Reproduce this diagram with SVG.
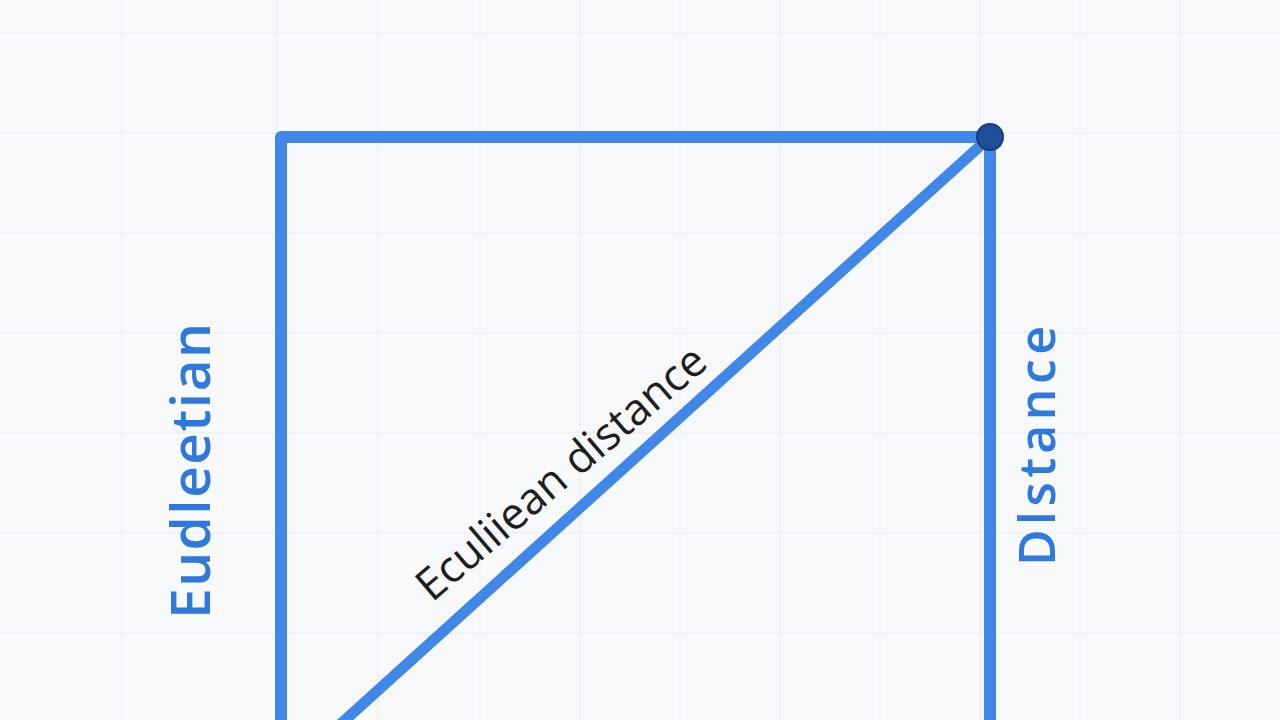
<svg xmlns="http://www.w3.org/2000/svg" width="1280" height="720" viewBox="0 0 1280 720">
<defs>
<style>
.grid{stroke:#eef1f4;stroke-width:1.5;fill:none}
.edge{stroke:#4087e8;stroke-width:12;fill:none;stroke-linejoin:round;stroke-linecap:butt}
.diag{stroke:#4087e8;stroke-width:11;fill:none}
.side{font-family:"Open Sans","DejaVu Sans",sans-serif;fill:#2f78dc;font-weight:600}
.lbl{font-family:"Open Sans","DejaVu Sans",sans-serif;fill:#1e1e1e;font-size:44px}
</style>
</defs>
<rect width="1280" height="720" fill="#f7f9fb"/>
<g id="grid" class="grid">
<path d="M122,0V720M277,0V720M378,0V720M480,0V720M580,0V720M680,0V720M780,0V720M880,0V720M980,0V720M1080,0V720M1180,0V720"/>
<path d="M0,33H1280M0,133H1280M0,233H1280M0,333H1280M0,433H1280M0,533H1280M0,633H1280"/>
</g>
<g id="connectors">
<path class="edge" d="M281,730 L281,137 L990,137 L990,730"/>
<path class="diag" d="M990,137 L323,740"/>
</g>
<g id="point">
<circle cx="990" cy="137" r="13" fill="#1f4f9c" stroke="#173d7c" stroke-width="2"/>
</g>
<g id="label-left">
<text class="side" font-size="55" transform="translate(210,619) rotate(-90)" textLength="296" lengthAdjust="spacing">Eudleetian</text>
</g>
<g id="label-right">
<text class="side" font-size="50" transform="translate(1055,566) rotate(-90)" textLength="240" lengthAdjust="spacing">Dlstance</text>
</g>
<g id="label-diagonal">
<text class="lbl" transform="translate(432,603) rotate(-40.5)">Eculiiean distance</text>
</g>
</svg>
